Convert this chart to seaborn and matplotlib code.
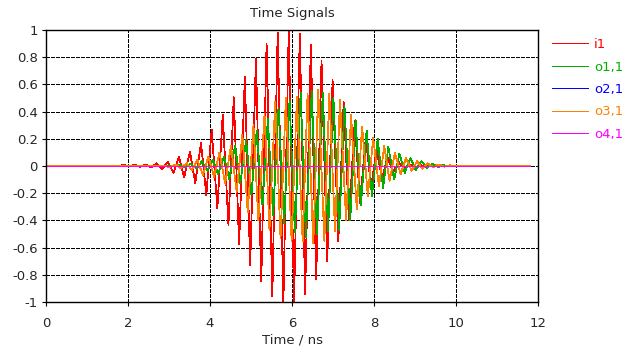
import matplotlib
matplotlib.use("Agg")
import matplotlib.pyplot as plt
import seaborn as sns
import pandas as pd

# ---- data (extrema, time in ns) ----
i1_t = [0.0, 1.78, 1.90, 2.03, 2.17, 2.30, 2.44, 2.57, 2.70, 2.84, 2.97, 3.11, 3.24, 3.37, 3.51, 3.64,
        3.78, 3.91, 4.04, 4.18, 4.31, 4.45, 4.58, 4.71, 4.85, 4.98, 5.12, 5.25, 5.38, 5.52,
        5.65, 5.79, 5.92, 6.05, 6.19, 6.32, 6.46, 6.59, 6.72, 6.86, 6.99, 7.13, 7.26, 7.39,
        7.53, 7.66, 7.80, 7.93, 8.06, 8.20, 8.33, 8.47, 8.60, 8.73, 8.87, 9.00, 9.14, 9.30, 11.8]
i1_v = [0.0, 0.0, 0.008, -0.004, 0.010, -0.006, 0.012, -0.012, 0.020, -0.022, 0.032, -0.050, 0.066,
        -0.082, 0.105, -0.125, 0.170, -0.213, 0.265, -0.310, 0.375, -0.434, 0.505, -0.574,
        0.652, -0.728, 0.790, -0.850, 0.900, -0.956, 0.980, -1.000, 1.000, -1.000, 0.970,
        -0.940, 0.890, -0.830, 0.770, -0.700, 0.630, -0.556, 0.470, -0.400, 0.330, -0.270,
        0.210, -0.160, 0.120, -0.090, 0.065, -0.045, 0.030, -0.020, 0.012, -0.008, 0.005, 0.0, 0.0]

o11_t = [0.0, 3.12, 3.26, 3.40, 3.53, 3.67, 3.80, 3.94, 4.07, 4.20, 4.34, 4.47, 4.61, 4.74, 4.88, 5.01,
         5.14, 5.28, 5.41, 5.54, 5.67, 5.81, 5.94, 6.07, 6.21, 6.34, 6.48, 6.61, 6.75, 6.88,
         7.01, 7.15, 7.28, 7.42, 7.55, 7.68, 7.82, 7.95, 8.09, 8.22, 8.35, 8.49, 8.62, 8.75,
         8.89, 9.02, 9.16, 9.29, 9.42, 9.56, 9.69, 9.83, 9.96, 10.1, 11.8]
o11_v = [0.0, 0.0, 0.008, -0.010, 0.018, -0.020, 0.035, -0.035, 0.044, -0.060, 0.070, -0.095, 0.150,
         -0.125, 0.190, -0.210, 0.260, -0.290, 0.345, -0.360, 0.430, -0.420, 0.490, -0.490,
         0.540, -0.520, 0.550, -0.500, 0.540, -0.480, 0.500, -0.470, 0.440, -0.400, 0.340,
         -0.290, 0.260, -0.225, 0.200, -0.160, 0.140, -0.100, 0.090, -0.050, 0.060, -0.030,
         0.035, -0.015, 0.018, -0.008, 0.008, -0.004, 0.004, 0.0, 0.0]

o21_t = [0.0, 11.8]
o21_v = [0.0, 0.0]

o31_t = [0.0, 2.90, 3.02, 3.16, 3.29, 3.43, 3.56, 3.69, 3.83, 3.96, 4.10, 4.23, 4.37, 4.51, 4.65, 4.79,
         4.92, 5.06, 5.18, 5.33, 5.45, 5.59, 5.72, 5.85, 5.99, 6.12, 6.26, 6.38, 6.52, 6.64,
         6.79, 6.91, 7.05, 7.17, 7.32, 7.44, 7.58, 7.71, 7.85, 7.98, 8.12, 8.25, 8.38, 8.51,
         8.65, 8.78, 8.92, 9.05, 9.18, 9.31, 9.45, 9.58, 9.72, 9.85, 9.99, 10.12, 10.25, 11.8]
o31_v = [0.0, 0.0, -0.008, 0.012, -0.018, 0.022, -0.030, 0.044, -0.066, 0.070, -0.080, 0.100, -0.130,
         0.150, -0.190, 0.230, -0.340, 0.300, -0.400, 0.380, -0.470, 0.470, -0.530, 0.500,
         -0.550, 0.510, -0.556, 0.530, -0.570, 0.560, -0.550, 0.530, -0.480, 0.485, -0.400,
         0.375, -0.320, 0.290, -0.220, 0.210, -0.150, 0.147, -0.110, 0.100, -0.060, 0.060,
         -0.035, 0.035, -0.020, 0.020, -0.010, 0.012, -0.005, 0.006, -0.003, 0.003, 0.0, 0.0]

o41_t = [0.0, 11.8]
o41_v = [0.0, 0.0]

series_names = ["i1", "o1,1", "o2,1", "o3,1", "o4,1"]
series_colors = ["#ff0000", "#00b000", "#0000ff", "#ff8000", "#ff00ff"]
x_ticks = [0, 2, 4, 6, 8, 10, 12]
y_ticks = [1, 0.8, 0.6, 0.4, 0.2, 0, -0.2, -0.4, -0.6, -0.8, -1]
y_tick_labels = ["1", "0.8", "0.6", "0.4", "0.2", "0", "-0.2", "-0.4", "-0.6", "-0.8", "-1"]

frames = []
for name, tt, vv in zip(series_names, [i1_t, o11_t, o21_t, o31_t, o41_t],
                        [i1_v, o11_v, o21_v, o31_v, o41_v]):
    frames.append(pd.DataFrame({"t": tt, "v": vv, "series": name}))
df = pd.concat(frames, ignore_index=True)

sns.set_style("ticks")
plt.rcParams["font.family"] = ["DejaVu Sans"]
plt.rcParams["axes.unicode_minus"] = False

fig = plt.figure(figsize=(6.32, 3.53), dpi=100)
ax = fig.add_axes([46 / 632, 1 - 302 / 353, 492 / 632, 272 / 353])

sns.lineplot(data=df, x="t", y="v", hue="series", hue_order=series_names,
             palette=dict(zip(series_names, series_colors)), estimator=None,
             sort=False, linewidth=0.55, ax=ax)
for ln in ax.get_lines():
    ln.set_antialiased(False)

ax.set_xlim(0, 12)
ax.set_ylim(-1, 1)
ax.set_xticks(x_ticks)
ax.set_xticklabels([str(v) for v in x_ticks])
ax.set_yticks(y_ticks)
ax.set_yticklabels(y_tick_labels)
ax.grid(True, color="black", linestyle=(0, (3.8, 1.9)), linewidth=0.75, antialiased=False)
ax.set_axisbelow(True)
for sp in ax.spines.values():
    sp.set_visible(True)
    sp.set_color("black")
    sp.set_linewidth(1.0)
ax.tick_params(direction="out", length=3, width=0.8, color="black", labelsize=9.5)
ax.tick_params(axis="x", pad=7.5)
ax.tick_params(axis="y", pad=3)
ax.set_xlabel("Time / ns", fontsize=9.5, labelpad=3)
ax.set_ylabel("")
ax.set_title("Time Signals", fontsize=9.5, pad=9.5)

leg = ax.legend(loc="upper left", bbox_to_anchor=(552 / 632, 1 - 38 / 353), bbox_transform=fig.transFigure,
                frameon=False, labelcolor="linecolor", fontsize=9.5, handlelength=2.7,
                handletextpad=0.5, borderpad=0, borderaxespad=0, labelspacing=0.72)
for ln in leg.get_lines():
    ln.set_linewidth(0.7)
    ln.set_antialiased(False)

fig.savefig("out.png", dpi=100)
